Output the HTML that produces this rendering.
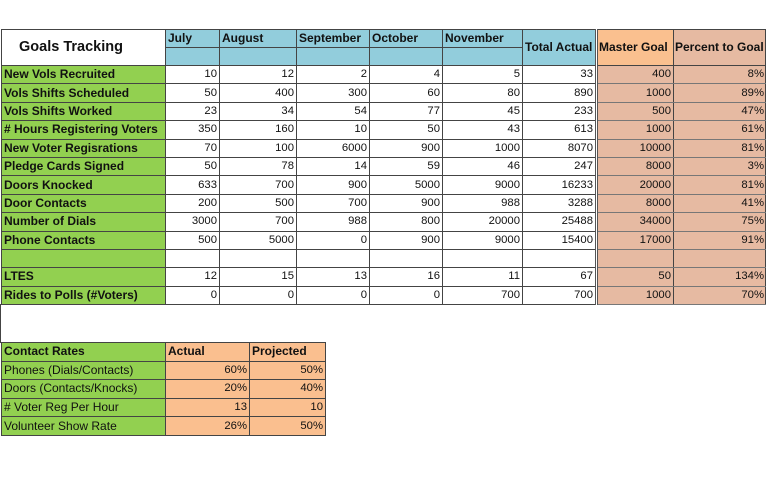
<!DOCTYPE html>
<html><head><meta charset="utf-8">
<style>
html,body{margin:0;padding:0;background:#fff;width:768px;height:498px;overflow:hidden;}
body{position:relative;font-family:"Liberation Sans",Arial,sans-serif;color:#111;}
table{border-collapse:collapse;table-layout:fixed;position:absolute;}
td{border:1px solid #444;padding:0 2px;white-space:nowrap;overflow:hidden;font-size:11.3px;text-align:right;vertical-align:middle;line-height:13px;}
.t1{left:1px;top:29px;width:764px;}
.t1 tr.d{height:18.4px;}
td.l{background:#92D050;font-weight:bold;font-size:12px;text-align:left;padding-left:2px;}
td.w{background:#fff;}
td.tn{background:#E6BAA2;border-top-color:#777;border-bottom-color:#777;}
td.dbl{border-left:3px double #555;}
td.pc{padding-right:1px;}
td.title{background:#fff;font-weight:bold;font-size:14.5px;text-align:left;padding-left:17px;padding-bottom:1px;padding-top:1px;}
td.mh{background:#92CDDC;font-weight:bold;font-size:12px;text-align:left;padding-left:2px;}
td.mb{background:#92CDDC;}
td.bh{background:#92CDDC;font-weight:bold;font-size:12px;text-align:left;padding-left:2px;}
td.oh{background:#FAC08F;font-weight:bold;font-size:12px;text-align:left;padding-left:1px;}
td.th{background:#E6BAA2;font-weight:bold;font-size:12px;text-align:left;padding-left:1px;padding-right:0;letter-spacing:0px;}
.t2{left:1px;top:342px;width:324px;}
.t2 tr{height:18.6px;}
td.g2{background:#92D050;font-size:12px;text-align:left;padding-left:2px;}
td.o2{background:#FABF8F;}
td.b{font-weight:bold;}
td.h2{background:#FABF8F;font-weight:bold;font-size:12px;text-align:left;padding-left:2px;}
.vl{position:absolute;left:0px;top:304px;width:1px;height:39px;background:#444;}
</style></head><body>
<table class="t1">
<colgroup><col style="width:164px"><col style="width:54px"><col style="width:77px"><col style="width:73px"><col style="width:73px"><col style="width:80px"><col style="width:74px"><col style="width:77px"><col style="width:92px"></colgroup>
<tr style="height:18px"><td rowspan="2" class="title">Goals Tracking</td><td class="mh">July</td><td class="mh">August</td><td class="mh">September</td><td class="mh">October</td><td class="mh">November</td><td rowspan="2" class="bh">Total Actual</td><td rowspan="2" class="oh dbl">Master Goal</td><td rowspan="2" class="th">Percent to Goal</td></tr>
<tr style="height:18px"><td class="mb"></td><td class="mb"></td><td class="mb"></td><td class="mb"></td><td class="mb"></td></tr>
<tr class="d"><td class="l">New Vols Recruited</td><td class="w">10</td><td class="w">12</td><td class="w">2</td><td class="w">4</td><td class="w">5</td><td class="w">33</td><td class="tn dbl">400</td><td class="tn pc">8%</td></tr>
<tr class="d"><td class="l">Vols Shifts Scheduled</td><td class="w">50</td><td class="w">400</td><td class="w">300</td><td class="w">60</td><td class="w">80</td><td class="w">890</td><td class="tn dbl">1000</td><td class="tn pc">89%</td></tr>
<tr class="d"><td class="l">Vols Shifts Worked</td><td class="w">23</td><td class="w">34</td><td class="w">54</td><td class="w">77</td><td class="w">45</td><td class="w">233</td><td class="tn dbl">500</td><td class="tn pc">47%</td></tr>
<tr class="d"><td class="l"># Hours Registering Voters</td><td class="w">350</td><td class="w">160</td><td class="w">10</td><td class="w">50</td><td class="w">43</td><td class="w">613</td><td class="tn dbl">1000</td><td class="tn pc">61%</td></tr>
<tr class="d"><td class="l">New Voter Regisrations</td><td class="w">70</td><td class="w">100</td><td class="w">6000</td><td class="w">900</td><td class="w">1000</td><td class="w">8070</td><td class="tn dbl">10000</td><td class="tn pc">81%</td></tr>
<tr class="d"><td class="l">Pledge Cards Signed</td><td class="w">50</td><td class="w">78</td><td class="w">14</td><td class="w">59</td><td class="w">46</td><td class="w">247</td><td class="tn dbl">8000</td><td class="tn pc">3%</td></tr>
<tr class="d"><td class="l">Doors Knocked</td><td class="w">633</td><td class="w">700</td><td class="w">900</td><td class="w">5000</td><td class="w">9000</td><td class="w">16233</td><td class="tn dbl">20000</td><td class="tn pc">81%</td></tr>
<tr class="d"><td class="l">Door Contacts</td><td class="w">200</td><td class="w">500</td><td class="w">700</td><td class="w">900</td><td class="w">988</td><td class="w">3288</td><td class="tn dbl">8000</td><td class="tn pc">41%</td></tr>
<tr class="d"><td class="l">Number of Dials</td><td class="w">3000</td><td class="w">700</td><td class="w">988</td><td class="w">800</td><td class="w">20000</td><td class="w">25488</td><td class="tn dbl">34000</td><td class="tn pc">75%</td></tr>
<tr class="d"><td class="l">Phone Contacts</td><td class="w">500</td><td class="w">5000</td><td class="w">0</td><td class="w">900</td><td class="w">9000</td><td class="w">15400</td><td class="tn dbl">17000</td><td class="tn pc">91%</td></tr>
<tr class="d"><td class="l"></td><td class="w"></td><td class="w"></td><td class="w"></td><td class="w"></td><td class="w"></td><td class="w"></td><td class="tn dbl"></td><td class="tn pc"></td></tr>
<tr class="d"><td class="l">LTES</td><td class="w">12</td><td class="w">15</td><td class="w">13</td><td class="w">16</td><td class="w">11</td><td class="w">67</td><td class="tn dbl">50</td><td class="tn pc">134%</td></tr>
<tr class="d"><td class="l">Rides to Polls (#Voters)</td><td class="w">0</td><td class="w">0</td><td class="w">0</td><td class="w">0</td><td class="w">700</td><td class="w">700</td><td class="tn dbl">1000</td><td class="tn pc">70%</td></tr>
</table>
<div class="vl"></div>
<table class="t2">
<colgroup><col style="width:164px"><col style="width:84px"><col style="width:76px"></colgroup>
<tr><td class="g2 b">Contact Rates</td><td class="h2">Actual</td><td class="h2">Projected</td></tr>
<tr><td class="g2">Phones (Dials/Contacts)</td><td class="o2">60%</td><td class="o2">50%</td></tr>
<tr><td class="g2">Doors (Contacts/Knocks)</td><td class="o2">20%</td><td class="o2">40%</td></tr>
<tr><td class="g2"># Voter Reg Per Hour</td><td class="o2">13</td><td class="o2">10</td></tr>
<tr><td class="g2">Volunteer Show Rate</td><td class="o2">26%</td><td class="o2">50%</td></tr>
</table>
</body></html>
